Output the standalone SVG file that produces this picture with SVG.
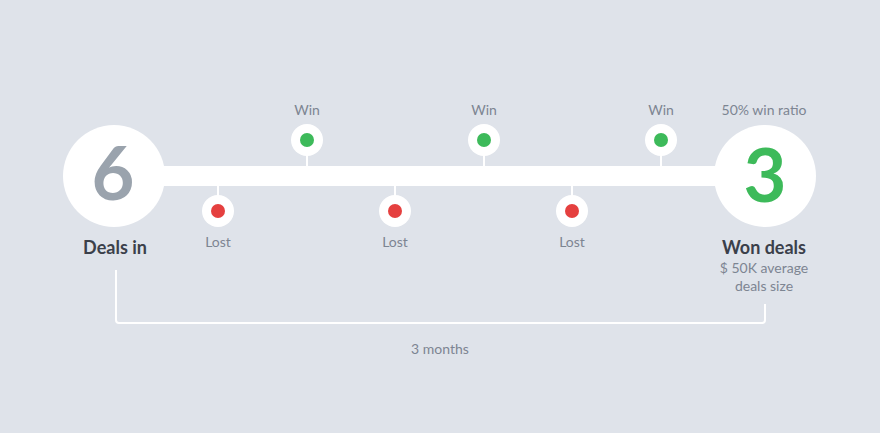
<svg xmlns="http://www.w3.org/2000/svg" width="880" height="433" viewBox="0 0 880 433">
<style>
.lbl{font-family:Lato,"Open Sans","Liberation Sans",sans-serif;font-size:14px;fill:#7d8592;text-anchor:middle}
.ttl{font-family:Lato,"Open Sans","Liberation Sans",sans-serif;font-size:18px;font-weight:bold;fill:#3b404a;text-anchor:middle}
.big{font-family:Lato,"Open Sans","Liberation Sans",sans-serif;font-size:74px;font-weight:bold;text-anchor:middle}
.wc{fill:#ffffff}
.line{stroke:#ffffff;fill:none}
</style>
<rect width="880" height="433" fill="#dfe3ea"/>
<g id="connectors">
<rect x="150" y="166" width="580" height="20" fill="#ffffff"/>
<line class="line" x1="307" y1="150" x2="307" y2="166" stroke-width="2"/>
<line class="line" x1="484" y1="150" x2="484" y2="166" stroke-width="2"/>
<line class="line" x1="661" y1="150" x2="661" y2="166" stroke-width="2"/>
<line class="line" x1="218" y1="186" x2="218" y2="200" stroke-width="2"/>
<line class="line" x1="395" y1="186" x2="395" y2="200" stroke-width="2"/>
<line class="line" x1="572" y1="186" x2="572" y2="200" stroke-width="2"/>
<path class="line" d="M116 270 V320 Q116 323 119 323 H762 Q765 323 765 320 V304" stroke-width="2"/>
</g>
<g id="deals-in">
<circle class="wc" cx="114" cy="176" r="51"/>
<text class="big" x="113" y="200" fill="#9aa3ad">6</text>
<text class="ttl" x="115" y="254">Deals in</text>
</g>
<g id="won-deals">
<circle class="wc" cx="765" cy="176" r="51"/>
<text class="big" x="765" y="202" fill="#3dba5a">3</text>
<text class="lbl" x="764" y="115">50% win ratio</text>
<text class="ttl" x="764" y="254">Won deals</text>
<text class="lbl" x="764" y="273">$ 50K average</text>
<text class="lbl" x="764" y="291">deals size</text>
</g>
<g id="win1"><text class="lbl" x="307" y="115">Win</text><circle class="wc" cx="307" cy="140" r="16"/><circle cx="307" cy="140" r="7" fill="#3dba5a"/></g>
<g id="win2"><text class="lbl" x="484" y="115">Win</text><circle class="wc" cx="484" cy="140" r="16"/><circle cx="484" cy="140" r="7" fill="#3dba5a"/></g>
<g id="win3"><text class="lbl" x="661" y="115">Win</text><circle class="wc" cx="661" cy="140" r="16"/><circle cx="661" cy="140" r="7" fill="#3dba5a"/></g>
<g id="lost1"><circle class="wc" cx="218" cy="211" r="16"/><circle cx="218" cy="211" r="7" fill="#e5403f"/><text class="lbl" x="218" y="247">Lost</text></g>
<g id="lost2"><circle class="wc" cx="395" cy="211" r="16"/><circle cx="395" cy="211" r="7" fill="#e5403f"/><text class="lbl" x="395" y="247">Lost</text></g>
<g id="lost3"><circle class="wc" cx="572" cy="211" r="16"/><circle cx="572" cy="211" r="7" fill="#e5403f"/><text class="lbl" x="572" y="247">Lost</text></g>
<g id="duration"><text class="lbl" x="440" y="354">3 months</text></g>
</svg>
